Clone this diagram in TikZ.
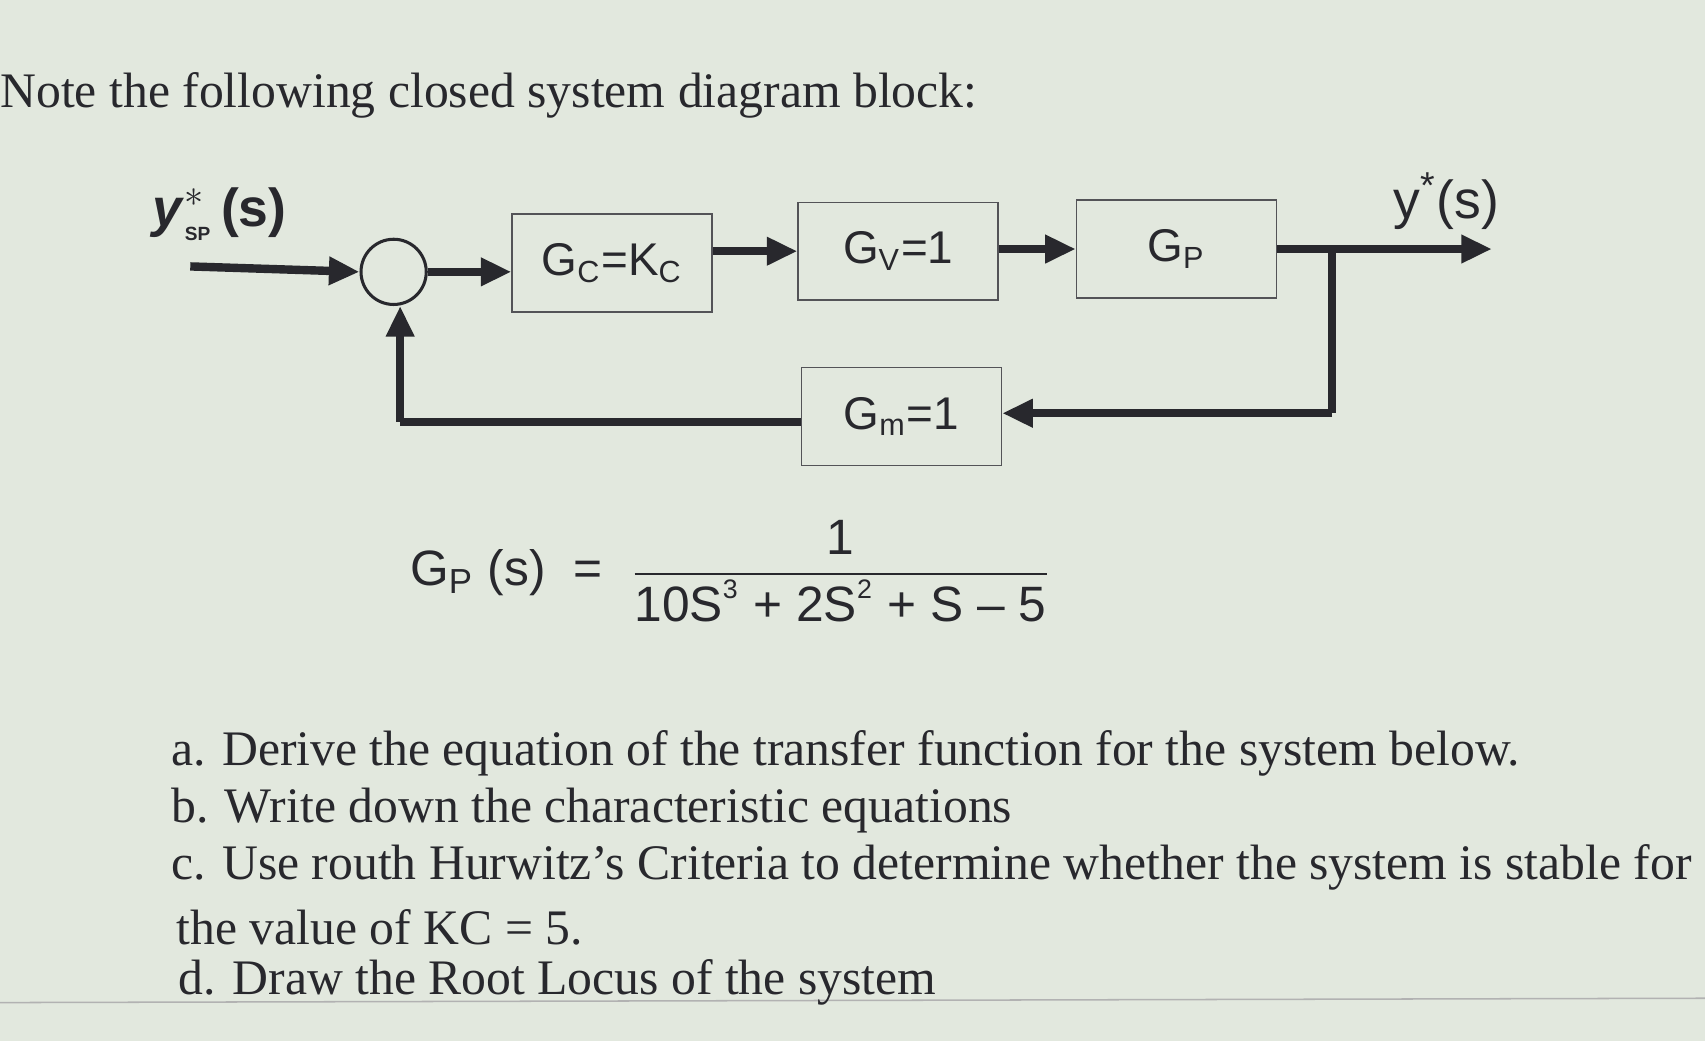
\documentclass[tikz,border=0pt]{standalone}
\usepackage{amsmath}
\usepackage{fontspec}
\setmainfont{Liberation Serif}
\setsansfont{Liberation Sans}
\usetikzlibrary{arrows.meta,positioning}
\definecolor{paper}{RGB}{226,232,222}
\definecolor{ink}{RGB}{40,40,45}
\tikzset{
  blk/.style={draw=ink!80, thin, minimum width=1.84cm, minimum height=0.9cm, font=\sffamily\fontsize{12}{14}\selectfont, text=ink},
  sig/.style={line width=2.2pt, ink, -{Triangle[length=8pt,width=7pt]}},
  sigline/.style={line width=2.2pt, ink},
  qtext/.style={font=\fontsize{13}{16}\selectfont, text=ink, anchor=west}
}
\begin{document}
\begin{tikzpicture}[x=1cm,y=1cm]
    % Background
    \fill[paper] (0,0) rectangle (15.68,-9.57);
    \useasboundingbox (0,0) rectangle (15.68,-9.57);
    \draw[gray!60] (0,-9.22) -- (15.68,-9.18);

    % Title
    \node[qtext] (title) at (-0.12,-0.88) {Note the following closed system diagram block:};

    % Blocks
    \node[draw=ink, thick, circle, minimum size=0.6cm, inner sep=0pt] (sum) at (3.62,-2.5) {};
    \node[blk] (gc) at (5.63,-2.42) {G\textsubscript{C}=K\textsubscript{C}};
    \node[blk] (gv) at (8.26,-2.31) {G\textsubscript{V}=1};
    \node[blk] (gp) at (10.82,-2.29) {G\textsubscript{P}};
    \node[blk] (gm) at (8.29,-3.83) {G\textsubscript{m}=1};

    % Labels
    \node[font=\sffamily\bfseries\fontsize{14}{16}\selectfont, text=ink] (ysp) at (2.02,-1.97) {\textit{y}$^{*}_{\textsf{\tiny SP}}$\,(s)};
    \node[font=\sffamily\fontsize{14}{16}\selectfont, text=ink] (yout) at (13.3,-1.85) {y\textsuperscript{*}(s)};

    \coordinate (in) at (1.75,-2.45);
    \coordinate (branch) at (12.25,-2.29);
    \coordinate (out) at (13.72,-2.29);
    \coordinate (fbr) at (12.25,-3.8);
    \coordinate (fbl) at (3.68,-3.88);

    % Connectors
    \draw[sig] (in) -- (sum.west);
    \draw[sig] (sum.east) -- (gc.west |- sum.east);
    \draw[sig] (gc.east |- gv.west) -- (gv.west);
    \draw[sig] (gv.east |- gp.west) -- (gp.west);
    \draw[sig] (gp.east) -- (out);
    \draw[sigline] (branch) -- (fbr);
    \draw[sig] (fbr) -- (gm.east |- fbr);
    \draw[sigline] (gm.west |- fbl) -- (fbl);
    \draw[sig] (fbl) -- (fbl |- sum.south);

    % Transfer function
    \node[font=\sffamily\fontsize{13}{15}\selectfont, text=ink] (tf) at (6.72,-5.25)
        {G\textsubscript{P} (s) \ \textsf{=} \ $\dfrac{\textsf{1}}{\textsf{10S}^{\textsf{\scriptsize 3}}\textsf{ + 2S}^{\textsf{\scriptsize 2}}\textsf{ + S -- 5}}$};

    % Questions
    \node[qtext] (qa) at (1.45,-6.93) {a. Derive the equation of the transfer function for the system below.};
    \node[qtext] (qb) at (1.45,-7.45) {b. Write down the characteristic equations};
    \node[qtext] (qc) at (1.45,-7.98) {c. Use routh Hurwitz's Criteria to determine whether the system is stable for};
    \node[qtext] (qc2) at (1.50,-8.53) {the value of KC = 5.};
    \node[qtext] (qd) at (1.52,-9.03) {d. Draw the Root Locus of the system};
\end{tikzpicture}
\end{document}
